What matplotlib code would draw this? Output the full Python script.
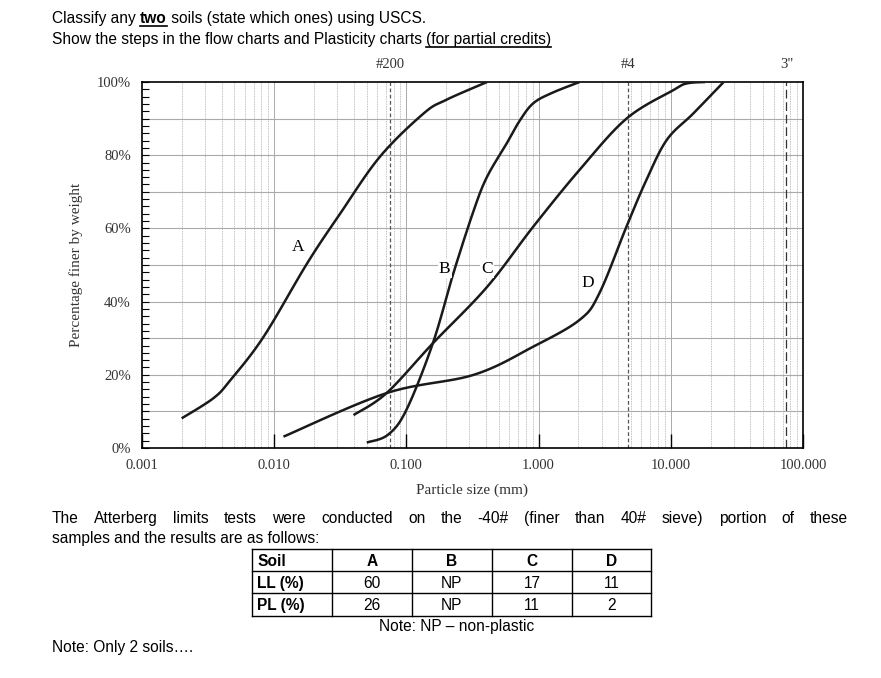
import matplotlib
matplotlib.use("Agg")
import matplotlib.pyplot as plt
import numpy as np
from matplotlib.lines import Line2D

W, H = 881, 678

# grain size curves: (log10 particle size mm, percent finer)
curve_a_x = [-2.70, -2.46, -2.33, -2.08, -1.75, -1.50, -1.20, -0.87, -0.70, -0.39]
curve_a_y = [8.1, 13.6, 18.6, 30.4, 50.5, 64.1, 79.6, 91.4, 95.1, 100]
curve_b_x = [-1.30, -1.14, -1.00, -0.80, -0.645, -0.49, -0.39, -0.24, -0.14, -0.04, 0.10, 0.31]
curve_b_y = [1.5, 3.6, 10.4, 28.6, 47.7, 65.0, 74.1, 83.3, 89.6, 94.2, 97.0, 100]
curve_c_x = [-1.40, -1.15, -0.80, -0.39, -0.04, 0.31, 0.665, 1.02, 1.12, 1.26]
curve_c_y = [9.0, 15.0, 28.6, 44.0, 60.5, 76.0, 90.0, 97.8, 99.6, 100]
curve_d_x = [-1.93, -1.15, -0.49, -0.04, 0.31, 0.46, 0.665, 0.815, 0.97, 1.17, 1.40]
curve_d_y = [3.1, 15.0, 20.0, 27.7, 35.0, 42.3, 60.5, 73.2, 84.2, 91.4, 100]
curve_names = ["A", "B", "C", "D"]
label_x = [-1.82, -0.71, -0.39, 0.37]
label_y = [55, 49, 49, 45]

sieve_names = ["#200", "#4", '3"']
sieve_mm = [0.075, 4.75, 75.0]

x_ticks = [0.001, 0.01, 0.1, 1, 10, 100]
x_ticklabels = ["0.001", "0.010", "0.100", "1.000", "10.000", "100.000"]
y_ticks = [0, 20, 40, 60, 80, 100]

table_rows = [["Soil", "A", "B", "C", "D"],
              ["LL (%)", "60", "NP", "17", "11"],
              ["PL (%)", "26", "NP", "11", "2"]]


def smooth(xs, ys, n=12):
    # Catmull-Rom spline through the read points, only to draw a smooth line
    p = np.column_stack([xs, ys])
    p = np.vstack([p[0], p, p[-1]])
    out = []
    for i in range(1, len(p) - 2):
        p0, p1, p2, p3 = p[i - 1], p[i], p[i + 1], p[i + 2]
        for t in np.linspace(0, 1, n, endpoint=False):
            out.append(0.5 * ((2 * p1) + (-p0 + p2) * t + (2 * p0 - 5 * p1 + 4 * p2 - p3) * t ** 2
                              + (-p0 + 3 * p1 - 3 * p2 + p3) * t ** 3))
    out.append(p[-2])
    out = np.array(out)
    return out[:, 0], out[:, 1]


fig = plt.figure(figsize=(W / 100, H / 100), dpi=100)
fig.patch.set_facecolor("white")
ax = fig.add_axes([142 / W, 1 - 448 / H, 661 / W, 366 / H])
ax.set_xscale("log")
ax.set_xlim(0.001, 100)
ax.set_ylim(0, 100)

serif = "Liberation Serif"
sans = "Liberation Sans"

# grid
for d in range(-3, 2):
    for m in range(2, 10):
        ax.axvline(m * 10.0 ** d, color="#aaaaaa", lw=0.6, ls=(0, (1, 1)), zorder=1)
for d in range(-2, 2):
    ax.axvline(10.0 ** d, color="#aaaaaa", lw=0.7, zorder=1)
for v in range(10, 100, 10):
    ax.axhline(v, color="#aaaaaa", lw=0.8, zorder=1)

for xs, ys in [(curve_a_x, curve_a_y), (curve_b_x, curve_b_y),
               (curve_c_x, curve_c_y), (curve_d_x, curve_d_y)]:
    sx, sy = smooth(xs, ys)
    ax.plot(10.0 ** sx, sy, color="#1a1a1a", lw=1.8, zorder=3, solid_capstyle="butt")
for n, lx, ly in zip(curve_names, label_x, label_y):
    ax.text(10 ** lx, ly, n, fontsize=12.5, family=serif, ha="center", va="center",
            bbox=dict(fc="white", ec="none", pad=1), zorder=4)

styles = [(0, (3, 2)), (0, (3, 2)), (0, (7, 3))]
for nm, mm, st in zip(sieve_names, sieve_mm, styles):
    ax.axvline(mm, color="#555555" if nm != '3"' else "#333333", lw=0.9, ls=st, zorder=2)
    ax.text(mm, 103, nm, ha="center", va="bottom", fontsize=10.5, family=serif, color="#333333")

ax.set_xticks(x_ticks)
ax.set_xticklabels(x_ticklabels, fontsize=10.5, family=serif, color="#333333")
ax.xaxis.set_minor_locator(matplotlib.ticker.NullLocator())
ax.tick_params(axis="x", direction="in", length=10, width=1, pad=8)
ax.set_yticks(y_ticks)
ax.set_yticklabels([f"{v}%" for v in y_ticks], fontsize=10.5, family=serif, color="#333333")
ax.set_yticks(np.arange(0, 101, 2), minor=True)
ax.tick_params(axis="y", which="both", direction="in", length=5, width=0.8, pad=8)
ax.set_xlabel("Particle size (mm)", fontsize=11, family=serif, color="#333333", labelpad=8)
ax.set_ylabel("Percentage finer by weight", fontsize=11, family=serif, color="#333333", labelpad=10)
for s in ax.spines.values():
    s.set_linewidth(1.2)

renderer = fig.canvas.get_renderer()


def put(x, y, s, **kw):
    kw.setdefault("fontsize", 11.2)
    kw.setdefault("family", sans)
    return fig.text(x / W, 1 - y / H, s, va="baseline", **kw)


def right_px(t):
    return t.get_window_extent(renderer).x1


def underline(x0, x1, y):
    fig.add_artist(Line2D([x0 / W, x1 / W], [1 - y / H, 1 - y / H], color="black", lw=1.2))


# header lines
t1 = put(52, 23, "Classify any ")
x = right_px(t1)
t2 = put(x, 23, "two", fontweight="bold")
x2 = right_px(t2)
underline(x, x2, 26)
put(x2, 23, " soils (state which ones) using USCS.")
t3 = put(52, 44, "Show the steps in the flow charts and Plasticity charts ")
x = right_px(t3)
t4 = put(x, 44, "(for partial credits)")
underline(x, right_px(t4), 47)

# justified paragraph line
words = "The Atterberg limits tests were conducted on the -40# (finer than 40# sieve) portion of these".split()
objs = [put(0, 523, w) for w in words]
widths = [o.get_window_extent(renderer).width for o in objs]
gap = (848 - 52 - sum(widths)) / (len(words) - 1)
xx = 52
for o, w in zip(objs, widths):
    o.set_position((xx / W, 1 - 523 / H))
    xx += w + gap
put(52, 543, "samples and the results are as follows:")

# table
col_edges = [252, 332, 412, 492, 572, 651]
row_edges = [549, 571, 593, 616]
for yv in row_edges:
    fig.add_artist(Line2D([col_edges[0] / W, col_edges[-1] / W], [1 - yv / H] * 2, color="black", lw=1))
for xv in col_edges:
    fig.add_artist(Line2D([xv / W] * 2, [1 - row_edges[0] / H, 1 - row_edges[-1] / H], color="black", lw=1))
for r, row in enumerate(table_rows):
    yb = row_edges[r] + 17
    for c, cell in enumerate(row):
        bold = (r == 0 or c == 0)
        if c == 0:
            put(col_edges[0] + 5, yb, cell, fontweight="bold")
        else:
            put((col_edges[c] + col_edges[c + 1]) / 2, yb, cell, ha="center",
                fontweight="bold" if bold else "normal")
put(457, 631, "Note: NP \u2013 non-plastic", ha="center")
put(52, 652, "Note: Only 2 soils\u2026.")

fig.savefig("out.png", dpi=100)
